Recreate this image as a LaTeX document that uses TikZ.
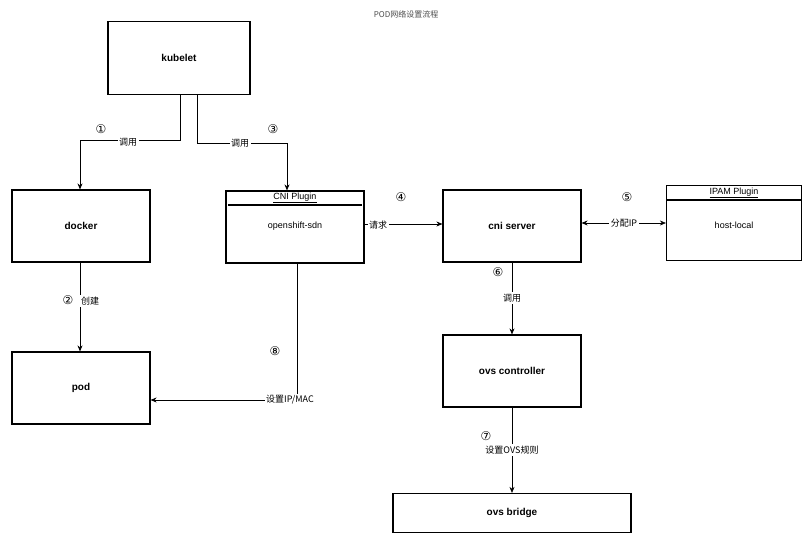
\documentclass[tikz,border=0pt]{standalone}
\usepackage{fontspec}
\setmainfont{Liberation Sans}
\newfontfamily\cjk{Noto Sans CJK SC}
\newfontfamily\djvfont{DejaVu Sans}
\usetikzlibrary{arrows.meta}
\begin{document}
\begin{tikzpicture}[x=1pt,y=-1pt,
  box/.style={draw,line width=1.2pt,font=\bfseries\fontsize{10}{12}\selectfont},
  lbl/.style={fill=white,inner sep=1.5pt,font=\cjk\fontsize{9}{11}\selectfont},
  num/.style={font=\djvfont\fontsize{12}{14}\selectfont},
  arr/.style={draw,line width=0.6pt,-{Stealth[length=6pt,width=5pt]}}]
\useasboundingbox (0,0) rectangle (812,540);
\node[font=\cjk\fontsize{8}{10}\selectfont,text=black!70] (title) at (406,14) {POD网络设置流程};
\node[box,minimum width=142pt,minimum height=73pt] (kub) at (179,58) {kubelet};
\node[box,minimum width=138pt,minimum height=72pt] (docker) at (81,226) {docker};
\node[box,minimum width=138pt,minimum height=72pt] (cni) at (295,227) {};
\draw[line width=1.2pt] (228,205) -- (362,205);
\node[font=\fontsize{9}{11}\selectfont] (cnih) at (295,198) {\underline{CNI Plugin}};
\node[font=\fontsize{9}{11}\selectfont] (cnib) at (295,226) {openshift-sdn};
\node[box,minimum width=138pt,minimum height=72pt] (srv) at (512,226) {cni server};
\node[box,minimum width=135pt,minimum height=75pt] (ipam) at (734,223) {};
\draw[line width=1.2pt] (667,200) -- (802,200);
\node[font=\fontsize{9}{11}\selectfont] (ipamh) at (734,193) {\underline{IPAM Plugin}};
\node[font=\fontsize{9}{11}\selectfont] (ipamb) at (734,225) {host-local};
\node[box,minimum width=138pt,minimum height=72pt] (pod) at (81,388) {pod};
\node[box,minimum width=138pt,minimum height=72pt] (ovc) at (512,371) {ovs controller};
\node[box,minimum width=238pt,minimum height=39pt] (ovb) at (512,513) {ovs bridge};
% 1
\draw[arr] (kub.south -| 180,0) -- (180,140) -- (80,140) -- (docker.north -| 80,0);
\node[lbl] (l1) at (128,142) {调用}; \node[num] (n1) at (101,129) {①};
% 3
\draw[arr] (kub.south -| 197,0) -- (197,143) -- (287,143) -- (cni.north -| 287,0);
\node[lbl] (l3) at (240,143) {调用}; \node[num] (n3) at (273,129) {③};
% 4
\draw[arr] (cni.east |- 0,224) -- (srv.west |- 0,224);
\node[lbl] (l4) at (378,225) {请求}; \node[num] (n4) at (401,197) {④};
% 5
\draw[arr,{Stealth[length=6pt,width=5pt]}-{Stealth[length=6pt,width=5pt]}] (srv.east |- 0,223) -- (ipam.west |- 0,223);
\node[lbl] (l5) at (624,223) {分配IP}; \node[num] (n5) at (627,197) {⑤};
% 6
\draw[arr] (srv.south) -- (ovc.north);
\node[lbl] (l6) at (512,298) {调用}; \node[num] (n6) at (498,272) {⑥};
% 2
\draw[arr] (docker.south -| 80,0) -- (pod.north -| 80,0);
\node[lbl] (l2) at (90,301) {创建}; \node[num] (n2) at (68,300) {②};
% 8
\draw[arr] (cni.south -| 297,0) -- (297,400) -- (pod.east |- 0,400);
\node[lbl] (l8) at (290,400) {设置IP/MAC}; \node[num] (n8) at (275,351) {⑧};
% 7
\draw[arr] (ovc.south) -- (ovb.north);
\node[lbl] (l7) at (512,450) {设置OVS规则}; \node[num] (n7) at (486,436) {⑦};
\end{tikzpicture}
\end{document}
